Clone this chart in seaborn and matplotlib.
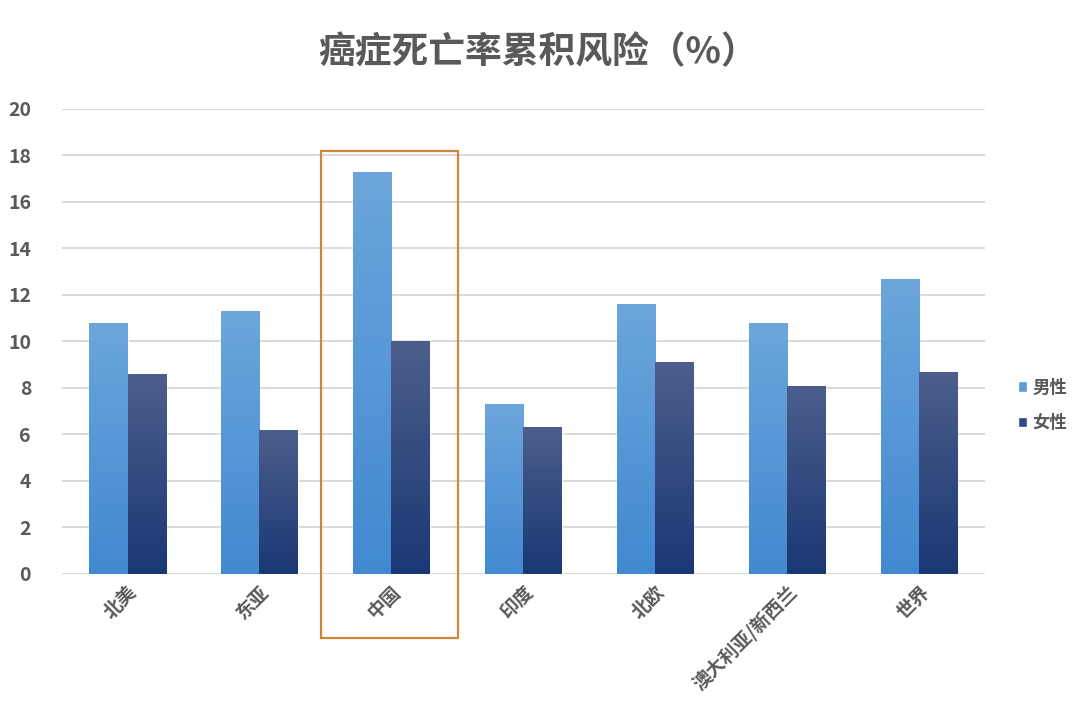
import matplotlib.pyplot as plt
import numpy as np
import pandas as pd
import seaborn as sns
from matplotlib.colors import LinearSegmentedColormap
from matplotlib.patches import Patch, Rectangle

# 数据
regions = ['北美', '东亚', '中国', '印度', '北欧', '澳大利亚/新西兰', '世界']
male = [10.8, 11.3, 17.3, 7.3, 11.6, 10.8, 12.7]
female = [8.6, 6.2, 10.0, 6.3, 9.1, 8.1, 8.7]
series = ['男性', '女性']
y_ticks = [0, 2, 4, 6, 8, 10, 12, 14, 16, 18, 20]

df = pd.DataFrame({
    '地区': regions * 2,
    '风险': male + female,
    '性别': ['男性'] * len(regions) + ['女性'] * len(regions),
})

sns.set_theme(style='white')
plt.rcParams['font.family'] = ['Noto Sans CJK SC', 'DejaVu Sans']

text_color = '#595959'
male_color = '#5b9bd5'
female_color = '#2b4a82'
# 渐变色（上 -> 下）
grad = {
    '男性': ('#6ca6dc', '#4189d1'),
    '女性': ('#4d5e8c', '#1a3874'),
}

fig = plt.figure(figsize=(10.8, 7.21), dpi=100)
ax = fig.add_axes([0.057, 0.204, 0.855, 0.645])

sns.barplot(data=df, x='地区', y='风险', hue='性别', hue_order=series,
            palette=[male_color, female_color], width=0.58, gap=0,
            legend=False, ax=ax, zorder=3)

# 给每根柱子加上竖直渐变
bars = [p for p in ax.patches if isinstance(p, Rectangle)]
n = len(regions)
for i, bar in enumerate(bars[:2 * n]):
    name = series[i // n]
    cmap = LinearSegmentedColormap.from_list(name, [grad[name][1], grad[name][0]])
    x0, w, h = bar.get_x(), bar.get_width(), bar.get_height()
    img = ax.imshow(np.linspace(0, 1, 256).reshape(-1, 1), cmap=cmap,
                    extent=[x0, x0 + w, 0, h], origin='lower',
                    aspect='auto', zorder=3.5)
    img.set_clip_path(bar)

ax.set_xlim(-0.5, len(regions) - 0.5)
ax.set_ylim(0, 20)
ax.set_yticks(y_ticks)
ax.grid(axis='y', color='#d9d9d9', linewidth=1.4, zorder=0)
ax.set_axisbelow(True)
for s in ax.spines.values():
    s.set_visible(False)
ax.set_xlabel('')
ax.set_ylabel('')
ax.tick_params(axis='both', length=0)
ax.tick_params(axis='y', pad=22)
for lab in ax.get_yticklabels():
    lab.set_fontsize(14)
    lab.set_fontweight('bold')
    lab.set_color(text_color)
ax.set_xticks(range(len(regions)))
ax.set_xticklabels(regions, rotation=45, ha='right', rotation_mode='anchor',
                   fontsize=13.5, fontweight='bold', color=text_color)
ax.tick_params(axis='x', pad=6)

# 中国 的橙色框
ax.add_patch(Rectangle((1.465, -2.75), 1.04, 20.95, fill=False,
                       edgecolor='#d4843a', linewidth=1.6, clip_on=False, zorder=5))

fig.text(0.498, 0.927, '癌症死亡率累积风险（%）', ha='center', va='center',
         fontsize=26.5, fontweight='bold', color=text_color)

handles = [Patch(facecolor=male_color), Patch(facecolor=female_color)]
fig.legend(handles, series, loc='center left', bbox_to_anchor=(0.928, 0.438),
           frameon=False, handlelength=0.55, handleheight=0.55, handletextpad=0.3,
           labelspacing=1.0, prop={'size': 12.5, 'weight': 'bold'}, labelcolor=text_color)

fig.savefig('out.png', dpi=100, facecolor='white')
